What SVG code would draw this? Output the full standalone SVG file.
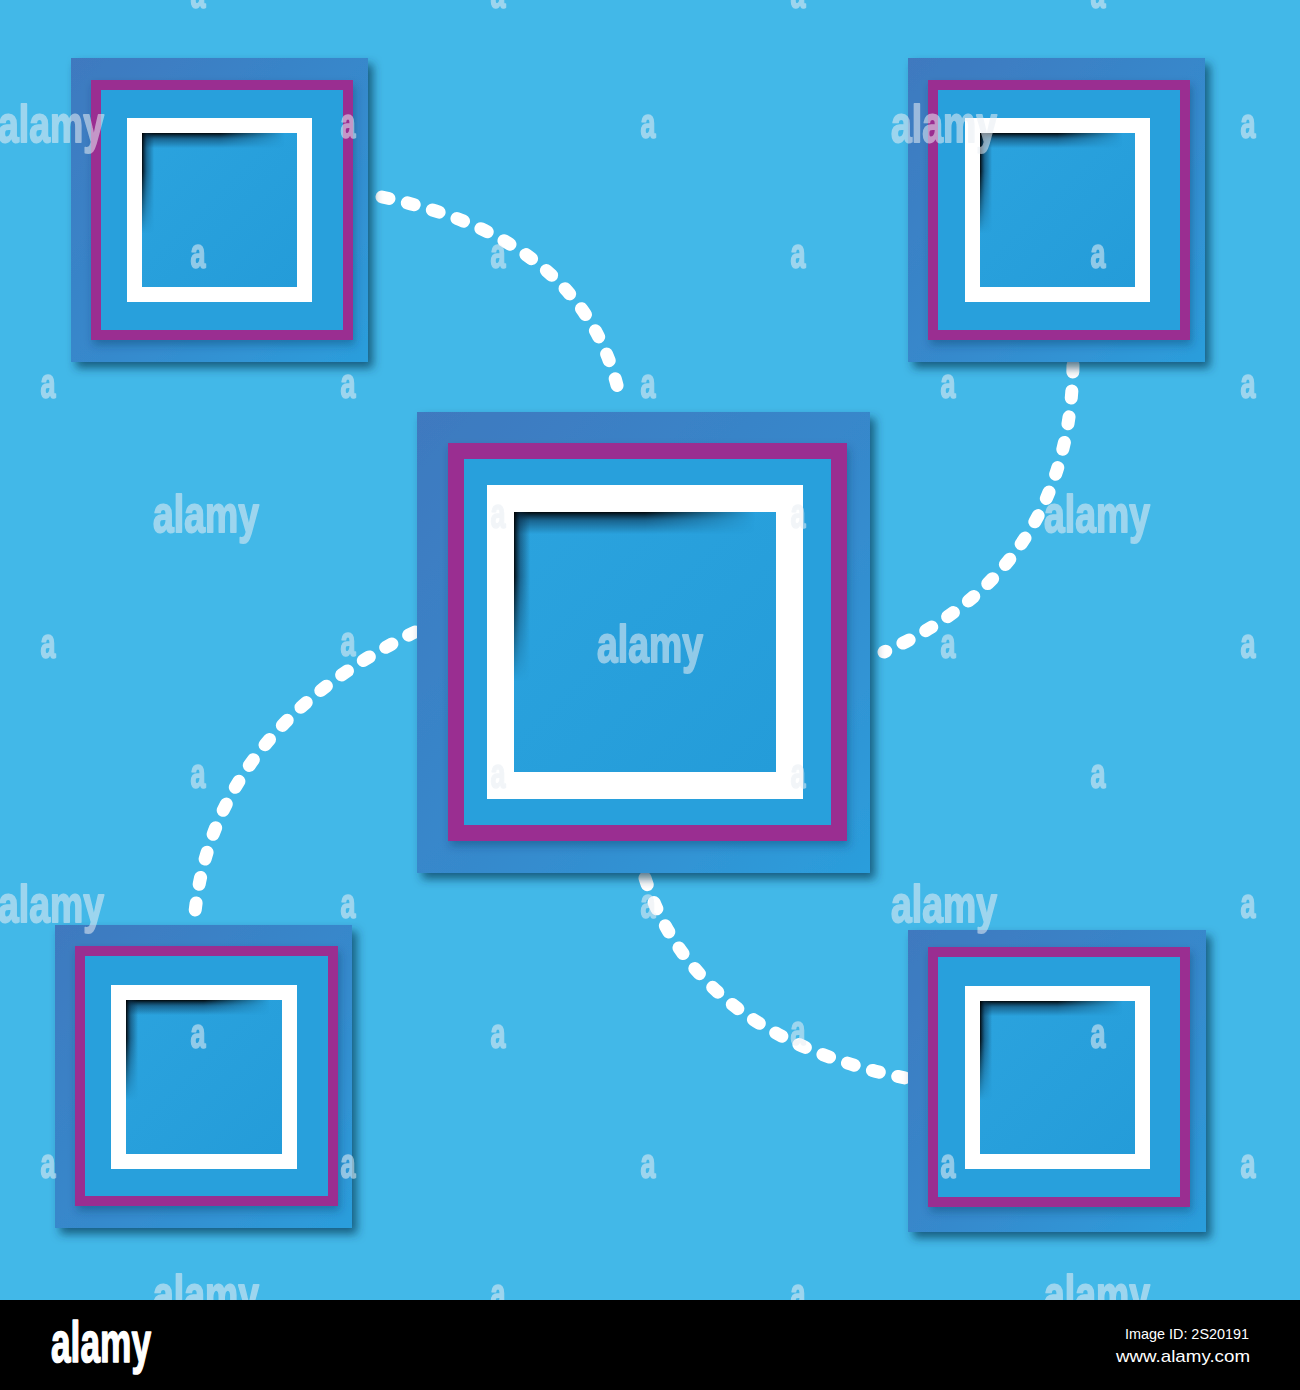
<svg xmlns="http://www.w3.org/2000/svg" width="1300" height="1390" viewBox="0 0 1300 1390">
<style>
.outer{fill:url(#outerGrad);filter:url(#drop)}
.ring{fill:#9A2D91;filter:url(#ringShadow)}
.fillb{fill:#28A0DC}
.frame{fill:#FFFFFF}
.inner{fill:url(#innerGrad)}
.conn{fill:none;stroke:#FFFFFF;stroke-width:13;stroke-linecap:round;stroke-dasharray:7 19}
#watermarks{opacity:0.55}
.wa{font-family:"Liberation Sans",Arial,sans-serif;font-weight:bold;font-size:42px;fill:#E8EEF4;stroke:#E8EEF4;stroke-width:1.6;stroke-linejoin:round;text-anchor:middle}
.wm{font-family:"Liberation Sans",Arial,sans-serif;font-weight:bold;font-size:52px;fill:#E8EEF4;stroke:#E8EEF4;stroke-width:1.8;stroke-linejoin:round;text-anchor:middle}
.foot{font-family:"Liberation Sans",Arial,sans-serif;fill:#FFFFFF}
</style>
<defs>
<linearGradient id="outerGrad" x1="0" y1="0" x2="1" y2="1">
<stop offset="0" stop-color="#3F79BF"/>
<stop offset="0.55" stop-color="#3689CC"/>
<stop offset="1" stop-color="#2B9EDC"/>
</linearGradient>
<linearGradient id="innerGrad" x1="0" y1="0" x2="1" y2="1">
<stop offset="0" stop-color="#2BA3DE"/>
<stop offset="1" stop-color="#249CD9"/>
</linearGradient>
<linearGradient id="shTop" x1="0" y1="0" x2="0" y2="1">
<stop offset="0" stop-color="#000" stop-opacity="0.95"/>
<stop offset="0.4" stop-color="#0a2a45" stop-opacity="0.5"/>
<stop offset="1" stop-color="#0a2a45" stop-opacity="0"/>
</linearGradient>
<linearGradient id="shLeft" x1="0" y1="0" x2="1" y2="0">
<stop offset="0" stop-color="#000" stop-opacity="0.95"/>
<stop offset="0.4" stop-color="#0a2a45" stop-opacity="0.5"/>
<stop offset="1" stop-color="#0a2a45" stop-opacity="0"/>
</linearGradient>
<linearGradient id="fadeH" x1="0" y1="0" x2="1" y2="0">
<stop offset="0" stop-color="#fff"/>
<stop offset="0.5" stop-color="#fff"/>
<stop offset="0.92" stop-color="#000"/>
</linearGradient>
<linearGradient id="fadeV" x1="0" y1="0" x2="0" y2="1">
<stop offset="0" stop-color="#fff"/>
<stop offset="0.25" stop-color="#fff"/>
<stop offset="0.65" stop-color="#000"/>
</linearGradient>
<mask id="mTop" maskContentUnits="objectBoundingBox"><rect x="0" y="0" width="1" height="1" fill="url(#fadeH)"/></mask>
<mask id="mLeft" maskContentUnits="objectBoundingBox"><rect x="0" y="0" width="1" height="1" fill="url(#fadeV)"/></mask>
<filter id="drop" x="-10%" y="-10%" width="125%" height="125%">
<feDropShadow dx="5" dy="6" stdDeviation="5" flood-color="#062e4c" flood-opacity="0.65"/>
</filter>
<filter id="ringShadow" x="-10%" y="-10%" width="125%" height="125%">
<feDropShadow dx="2" dy="5" stdDeviation="4" flood-color="#0a3556" flood-opacity="0.35"/>
</filter>
</defs>

<rect x="0" y="0" width="1300" height="1390" fill="#42B8E8"/>

<g id="connectors">
<path class="conn" d="M382,197 Q590,240 621,403"/>
<path class="conn" d="M1073,365 Q1070,570 884,652"/>
<path class="conn" d="M415,632 Q215,730 195,912"/>
<path class="conn" d="M645,878 Q695,1035 905,1078"/>
</g>

<g id="node-top-left">
<rect class="outer" x="71" y="58" width="297" height="304"/>
<rect class="ring" x="91" y="80" width="262" height="260"/>
<rect class="fillb" x="101" y="90" width="242" height="240"/>
<rect class="frame" x="127" y="118" width="185" height="184"/>
<rect class="inner" x="142" y="133" width="155" height="154"/>
<rect x="142" y="133" width="155" height="15" fill="url(#shTop)" mask="url(#mTop)"/>
<rect x="142" y="133" width="12" height="154" fill="url(#shLeft)" mask="url(#mLeft)"/>
</g>

<g id="node-top-right">
<rect class="outer" x="908" y="58" width="297" height="304"/>
<rect class="ring" x="928" y="80" width="262" height="260"/>
<rect class="fillb" x="938" y="90" width="242" height="240"/>
<rect class="frame" x="965" y="118" width="185" height="184"/>
<rect class="inner" x="980" y="133" width="155" height="154"/>
<rect x="980" y="133" width="155" height="15" fill="url(#shTop)" mask="url(#mTop)"/>
<rect x="980" y="133" width="12" height="154" fill="url(#shLeft)" mask="url(#mLeft)"/>
</g>

<g id="node-center">
<rect class="outer" x="417" y="412" width="453" height="461"/>
<rect class="ring" x="448" y="443" width="399" height="398"/>
<rect class="fillb" x="464" y="459" width="367" height="366"/>
<rect class="frame" x="487" y="485" width="316" height="314"/>
<rect class="inner" x="514" y="512" width="262" height="260"/>
<rect x="514" y="512" width="262" height="22" fill="url(#shTop)" mask="url(#mTop)"/>
<rect x="514" y="512" width="16" height="260" fill="url(#shLeft)" mask="url(#mLeft)"/>
</g>

<g id="node-bottom-left">
<rect class="outer" x="55" y="925" width="297" height="303"/>
<rect class="ring" x="75" y="946" width="263" height="260"/>
<rect class="fillb" x="85" y="956" width="243" height="240"/>
<rect class="frame" x="111" y="985" width="186" height="184"/>
<rect class="inner" x="126" y="1000" width="156" height="154"/>
<rect x="126" y="1000" width="156" height="15" fill="url(#shTop)" mask="url(#mTop)"/>
<rect x="126" y="1000" width="12" height="154" fill="url(#shLeft)" mask="url(#mLeft)"/>
</g>

<g id="node-bottom-right">
<rect class="outer" x="908" y="930" width="298" height="302"/>
<rect class="ring" x="928" y="947" width="262" height="260"/>
<rect class="fillb" x="938" y="957" width="242" height="240"/>
<rect class="frame" x="965" y="986" width="185" height="183"/>
<rect class="inner" x="980" y="1001" width="155" height="153"/>
<rect x="980" y="1001" width="155" height="15" fill="url(#shTop)" mask="url(#mTop)"/>
<rect x="980" y="1001" width="12" height="153" fill="url(#shLeft)" mask="url(#mLeft)"/>
</g>

<g id="watermarks">
<text class="wa" x="198" y="8" textLength="15" lengthAdjust="spacingAndGlyphs">a</text>
<text class="wa" x="498" y="8" textLength="15" lengthAdjust="spacingAndGlyphs">a</text>
<text class="wa" x="798" y="8" textLength="15" lengthAdjust="spacingAndGlyphs">a</text>
<text class="wa" x="1098" y="8" textLength="15" lengthAdjust="spacingAndGlyphs">a</text>

<text class="wm" x="51" y="142" textLength="106" lengthAdjust="spacingAndGlyphs">alamy</text>
<text class="wa" x="348" y="138" textLength="15" lengthAdjust="spacingAndGlyphs">a</text>
<text class="wa" x="648" y="138" textLength="15" lengthAdjust="spacingAndGlyphs">a</text>
<text class="wm" x="944" y="142" textLength="106" lengthAdjust="spacingAndGlyphs">alamy</text>
<text class="wa" x="1248" y="138" textLength="15" lengthAdjust="spacingAndGlyphs">a</text>

<text class="wa" x="198" y="268" textLength="15" lengthAdjust="spacingAndGlyphs">a</text>
<text class="wa" x="498" y="268" textLength="15" lengthAdjust="spacingAndGlyphs">a</text>
<text class="wa" x="798" y="268" textLength="15" lengthAdjust="spacingAndGlyphs">a</text>
<text class="wa" x="1098" y="268" textLength="15" lengthAdjust="spacingAndGlyphs">a</text>

<text class="wa" x="48" y="398" textLength="15" lengthAdjust="spacingAndGlyphs">a</text>
<text class="wa" x="348" y="398" textLength="15" lengthAdjust="spacingAndGlyphs">a</text>
<text class="wa" x="648" y="398" textLength="15" lengthAdjust="spacingAndGlyphs">a</text>
<text class="wa" x="948" y="398" textLength="15" lengthAdjust="spacingAndGlyphs">a</text>
<text class="wa" x="1248" y="398" textLength="15" lengthAdjust="spacingAndGlyphs">a</text>

<text class="wm" x="206" y="532" textLength="106" lengthAdjust="spacingAndGlyphs">alamy</text>
<text class="wa" x="498" y="528" textLength="15" lengthAdjust="spacingAndGlyphs">a</text>
<text class="wa" x="798" y="528" textLength="15" lengthAdjust="spacingAndGlyphs">a</text>
<text class="wm" x="1097" y="532" textLength="106" lengthAdjust="spacingAndGlyphs">alamy</text>

<text class="wa" x="48" y="658" textLength="15" lengthAdjust="spacingAndGlyphs">a</text>
<text class="wa" x="348" y="656" textLength="15" lengthAdjust="spacingAndGlyphs">a</text>
<text class="wm" x="650" y="662" textLength="106" lengthAdjust="spacingAndGlyphs">alamy</text>
<text class="wa" x="948" y="658" textLength="15" lengthAdjust="spacingAndGlyphs">a</text>
<text class="wa" x="1248" y="658" textLength="15" lengthAdjust="spacingAndGlyphs">a</text>

<text class="wa" x="198" y="788" textLength="15" lengthAdjust="spacingAndGlyphs">a</text>
<text class="wa" x="498" y="788" textLength="15" lengthAdjust="spacingAndGlyphs">a</text>
<text class="wa" x="798" y="788" textLength="15" lengthAdjust="spacingAndGlyphs">a</text>
<text class="wa" x="1098" y="788" textLength="15" lengthAdjust="spacingAndGlyphs">a</text>

<text class="wm" x="51" y="922" textLength="106" lengthAdjust="spacingAndGlyphs">alamy</text>
<text class="wa" x="348" y="918" textLength="15" lengthAdjust="spacingAndGlyphs">a</text>
<text class="wa" x="648" y="918" textLength="15" lengthAdjust="spacingAndGlyphs">a</text>
<text class="wm" x="944" y="922" textLength="106" lengthAdjust="spacingAndGlyphs">alamy</text>
<text class="wa" x="1248" y="918" textLength="15" lengthAdjust="spacingAndGlyphs">a</text>

<text class="wa" x="198" y="1048" textLength="15" lengthAdjust="spacingAndGlyphs">a</text>
<text class="wa" x="498" y="1048" textLength="15" lengthAdjust="spacingAndGlyphs">a</text>
<text class="wa" x="798" y="1045" textLength="15" lengthAdjust="spacingAndGlyphs">a</text>
<text class="wa" x="1098" y="1048" textLength="15" lengthAdjust="spacingAndGlyphs">a</text>

<text class="wa" x="48" y="1178" textLength="15" lengthAdjust="spacingAndGlyphs">a</text>
<text class="wa" x="348" y="1178" textLength="15" lengthAdjust="spacingAndGlyphs">a</text>
<text class="wa" x="648" y="1178" textLength="15" lengthAdjust="spacingAndGlyphs">a</text>
<text class="wa" x="948" y="1178" textLength="15" lengthAdjust="spacingAndGlyphs">a</text>
<text class="wa" x="1248" y="1178" textLength="15" lengthAdjust="spacingAndGlyphs">a</text>

<text class="wm" x="206" y="1312" textLength="106" lengthAdjust="spacingAndGlyphs">alamy</text>
<text class="wa" x="498" y="1308" textLength="15" lengthAdjust="spacingAndGlyphs">a</text>
<text class="wa" x="798" y="1308" textLength="15" lengthAdjust="spacingAndGlyphs">a</text>
<text class="wm" x="1097" y="1312" textLength="106" lengthAdjust="spacingAndGlyphs">alamy</text>
</g>

<g id="footer">
<rect x="0" y="1300" width="1300" height="90" fill="#000000"/>
<text class="foot" x="51" y="1362" font-size="58" font-weight="bold" stroke="#FFFFFF" stroke-width="1.6" stroke-linejoin="round" textLength="100" lengthAdjust="spacingAndGlyphs">alamy</text>
<text class="foot" x="1249" y="1339" font-size="15" text-anchor="end" textLength="124" lengthAdjust="spacingAndGlyphs">Image ID: 2S20191</text>
<text class="foot" x="1250" y="1362" font-size="17" text-anchor="end" textLength="134" lengthAdjust="spacingAndGlyphs">www.alamy.com</text>
</g>
</svg>
